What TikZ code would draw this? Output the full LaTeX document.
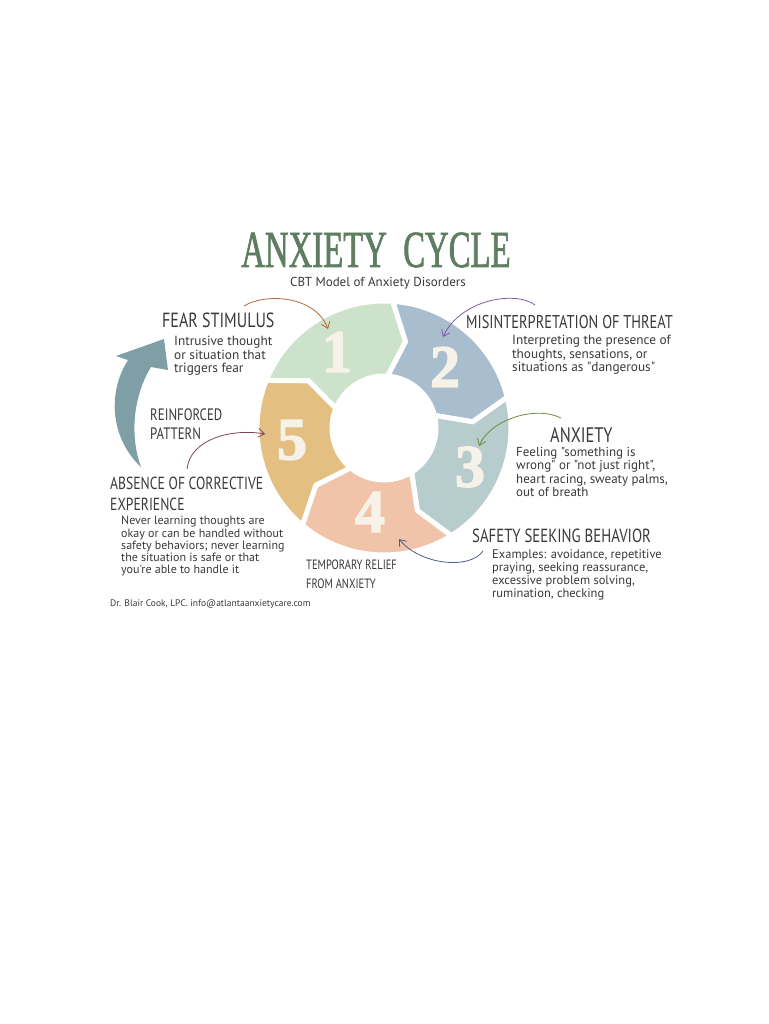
\documentclass[tikz,border=0pt]{standalone}
\usepackage{fontspec}
\setmainfont{PT Sans}
\newfontfamily\handfont{PT Sans}
\newfontfamily\capsfont[FakeStretch=0.78]{PT Sans}
\newfontfamily\titlefont[FakeStretch=0.63, FakeBold=1.2]{Liberation Serif}
\newfontfamily\numfont[FakeBold=2.5]{Liberation Serif Bold}
\usetikzlibrary{positioning,arrows.meta}
\definecolor{sage}{HTML}{5E7D61}
\definecolor{segA}{HTML}{CDE2CB}
\definecolor{segB}{HTML}{A8BDCD}
\definecolor{segC}{HTML}{B7CCCD}
\definecolor{segD}{HTML}{F1C3A9}
\definecolor{segE}{HTML}{E4BF82}
\definecolor{cream}{HTML}{F6F2E7}
\definecolor{steel}{HTML}{7F9FA7}
\definecolor{ink}{HTML}{3A3A3A}
\definecolor{rust}{HTML}{B36A3E}
\definecolor{plum}{HTML}{7C5BA8}
\definecolor{olive}{HTML}{6F8B3C}
\definecolor{navy}{HTML}{4C5F86}
\definecolor{wine}{HTML}{7B4656}

\begin{document}
\begin{tikzpicture}[x=1pt, y=-1pt,
  head/.style={font=\capsfont\fontsize{18}{21}\selectfont, text=ink, inner sep=0pt, anchor=north west, align=left},
  body/.style={font=\handfont\fontsize{13.3}{13.6}\selectfont, text=ink, inner sep=0pt, anchor=north west, align=left},
  num/.style={font=\numfont\fontsize{60}{60}\selectfont, text=cream},
  seg/.style={draw=white, line width=5pt, line join=miter},
  pointer/.style={-{Straight Barb[length=6pt,width=9pt]}, line width=0.8pt}]
\useasboundingbox[fill=white] (0,0) rectangle (768,1024);

% title
\node[font=\titlefont\fontsize{52}{52}\selectfont, text=sage, inner sep=0pt] (title) at (376,250) {ANXIETY\ \ CYCLE};
\node[font=\handfont\fontsize{13}{15}\selectfont, text=ink, inner sep=0pt] (sub) at (378,283) {CBT Model of Anxiety Disorders};

% ring of five chevrons
\begin{scope}[shift={(384,428)}, y=1pt]
\foreach \a/\c [evaluate=\a as \b using \a-72, evaluate=\a as \p using \a-82, evaluate=\a as \q using \a-10]
    in {158/segA, 86/segB, 14/segC, -58/segD, -130/segE}
  \filldraw[seg, fill=\c] (\a:127) arc[start angle=\a, end angle=\b, radius=127] -- (\p:89)
    -- (\b:52) arc[start angle=\b, end angle=\a, radius=52] -- (\q:89) -- cycle;
\end{scope}
\node[num] (n1) at (337,352) {1};
\node[num] (n2) at (445,367) {2};
\node[num] (n3) at (470,467) {3};
\node[num] (n4) at (370,512) {4};
\node[num] (n5) at (292,440) {5};

% big return arrow
\fill[steel] (164,339) -- (116,356) -- (128,360) .. controls (106,395) and (112,440) .. (141,467)
  .. controls (131,440) and (131,400) .. (151,367) -- (168,370) -- cycle;

% labels
\node[head, font=\capsfont\fontsize{20.5}{23}\selectfont] (fear) at (162,313) {FEAR STIMULUS};
\node[body] (fearTxt) at (174,336) {Intrusive thought\\or situation that\\triggers fear};
\node[head, font=\capsfont\fontsize{18.5}{21}\selectfont] (mis) at (466,315) {MISINTERPRETATION OF THREAT};
\node[body] (misTxt) at (512,335) {Interpreting the presence of\\thoughts, sensations, or\\situations as "dangerous"};
\node[head, font=\capsfont\fontsize{21}{23}\selectfont] (anx) at (550,427) {ANXIETY};
\node[body, font=\handfont\fontsize{13}{13.4}\selectfont] (anxTxt) at (516,447) {Feeling "something is\\wrong" or "not just right",\\heart racing, sweaty palms,\\out of breath};
\node[head, font=\capsfont\fontsize{19}{21}\selectfont] (safe) at (472,529) {SAFETY SEEKING BEHAVIOR};
\node[body, font=\handfont\fontsize{12.5}{13.2}\selectfont] (safeTxt) at (492,549) {Examples: avoidance, repetitive\\praying, seeking reassurance,\\excessive problem solving,\\rumination, checking};
\node[head, font=\capsfont\fontsize{13.5}{18.5}\selectfont] (relief) at (306,560) {TEMPORARY RELIEF\\FROM ANXIETY};
\node[head, font=\capsfont\fontsize{16.5}{18.5}\selectfont] (reinf) at (150,409) {REINFORCED\\PATTERN};
\node[head, font=\capsfont\fontsize{17.5}{21}\selectfont] (absence) at (110,477) {ABSENCE OF CORRECTIVE\\EXPERIENCE};
\node[body, font=\handfont\fontsize{12}{12.3}\selectfont] (absTxt) at (121,516) {Never learning thoughts are\\okay or can be handled without\\safety behaviors; never learning\\the situation is safe or that\\you're able to handle it};
\node[body, font=\handfont\fontsize{9.5}{11}\selectfont] (footer) at (110,600) {Dr. Blair Cook, LPC. info@atlantaanxietycare.com};

% pointers
\coordinate (s1) at (244,306);  \coordinate (t1) at (328,329);
\coordinate (s2) at (535,305);  \coordinate (t2) at (443,337);
\coordinate (s3) at (561,418);  \coordinate (t3) at (479,446);
\coordinate (s4) at (483,551);  \coordinate (t4) at (399,539);
\coordinate (s5) at (187,469);  \coordinate (t5) at (265,434);
\draw[pointer, rust] (s1) .. controls (265,293) and (315,295) .. (t1);
\draw[pointer, plum] (s2) .. controls (515,290) and (460,300) .. (t2);
\draw[pointer, olive] (s3) .. controls (535,405) and (490,420) .. (t3);
\draw[pointer, navy] (s4) .. controls (470,570) and (420,565) .. (t4);
\draw[pointer, wine] (s5) .. controls (190,440) and (230,428) .. (t5);
\end{tikzpicture}
\end{document}
